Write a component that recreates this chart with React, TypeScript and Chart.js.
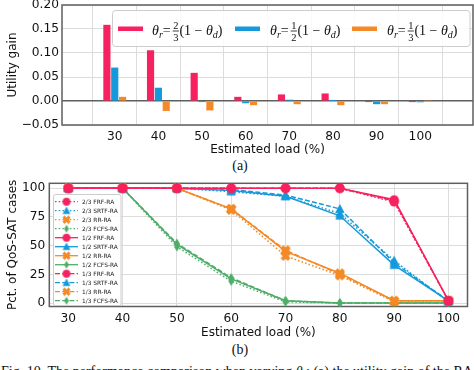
import React, { useEffect, useRef } from 'react';
import { Chart, registerables } from 'chart.js';

Chart.register(...registerables);

// ---------- data ----------
const loads = [30, 40, 50, 60, 70, 80, 90, 100];
const gainTicks = [-0.05, 0, 0.05, 0.1, 0.15, 0.2];
const pctTicks = [0, 25, 50, 75, 100];

// (a) utility gain per theta_r setting
const gain23 = [0.158, 0.105, 0.058, 0.008, 0.013, 0.015, -0.001, -0.001];
const gain12 = [0.069, 0.027, -0.001, -0.004, 0.002, 0.001, -0.006, -0.002];
const gain13 = [0.008, -0.02, -0.019, -0.008, -0.006, -0.008, -0.006, 0.0];
const gainFractions = [['2', '3'], ['1', '2'], ['1', '3']];

// (b) percentage of QoS-satisfied cases
const frf23 = [100, 100, 100, 100, 100, 100, 88, 2];
const frf12 = [100, 100, 100, 100, 100, 100, 90, 2];
const frf13 = [100, 100, 100, 100, 100, 100, 89, 2];
const srtf23 = [100, 100, 100, 97, 93, 78, 37, 1];
const srtf12 = [100, 100, 100, 98, 93, 76, 33, 2];
const srtf13 = [100, 100, 100, 99, 94, 82, 35, 2];
const rr23 = [100, 100, 100, 81, 41, 24, 1, 2];
const rr12 = [100, 100, 100, 82, 45, 26, 2, 2];
const rr13 = [100, 100, 100, 82, 46, 25, 2, 2];
const fcfs23 = [100, 100, 49, 19, 1, 0, 0, 0];
const fcfs12 = [100, 100, 51, 21, 2, 0, 0, 0];
const fcfs13 = [100, 100, 52, 22, 2, 0, 0, 0];
const ratioLabels = ['2/3', '1/2', '1/3'];
const algNames = ['FRF-RA', 'SRTF-RA', 'RR-RA', 'FCFS-RA'];

// ---------- styles ----------
const PINK = '#f6215e';
const BLUE = '#1599db';
const ORANGE = '#f38a27';
const GREEN = '#4fad6a';
const SANS = '"DejaVu Sans"';
const SERIF = '"Liberation Serif"';
const GRID = '#dcdcdc';
const FRAME = '#5f5f5f';
const TXT = '#111';

function makeMarker(shape: string, color: string, r: number) {
  const size = Math.ceil(r * 2 + 4);
  const c = document.createElement('canvas');
  c.width = size;
  c.height = size;
  const g = c.getContext('2d')!;
  g.translate(size / 2, size / 2);
  g.fillStyle = color;
  g.beginPath();
  if (shape === 'circle') {
    g.arc(0, 0, r, 0, Math.PI * 2);
  } else if (shape === 'triangle') {
    g.moveTo(0, -r * 1.1);
    g.lineTo(r, r * 0.8);
    g.lineTo(-r, r * 0.8);
    g.closePath();
  } else if (shape === 'x') {
    g.rotate(Math.PI / 4);
    const a = r * 0.4;
    const L = r * 1.05;
    const pts = [[-a, -L], [a, -L], [a, -a], [L, -a], [L, a], [a, a], [a, L], [-a, L], [-a, a], [-L, a], [-L, -a], [-a, -a]];
    pts.forEach((p, i) => (i ? g.lineTo(p[0], p[1]) : g.moveTo(p[0], p[1])));
    g.closePath();
  } else {
    g.moveTo(0, -r * 1.05);
    g.lineTo(r * 0.62, 0);
    g.lineTo(0, r * 1.05);
    g.lineTo(-r * 0.62, 0);
    g.closePath();
  }
  g.fill();
  return c;
}

const framePlugin = {
  id: 'frame',
  beforeDatasetsDraw(chart: any) {
    const { ctx, chartArea: a } = chart;
    ctx.save();
    ctx.strokeStyle = FRAME;
    ctx.lineWidth = 1.5;
    ctx.strokeRect(a.left, a.top, a.right - a.left, a.bottom - a.top);
    ctx.restore();
  },
};

function drawMathLabel(ctx: CanvasRenderingContext2D, x0: number, yMid: number, num: string, den: string) {
  let x = x0;
  const base = yMid + 4.3;
  const main = `14px ${SERIF}`;
  const it = `italic 14px ${SERIF}`;
  const sub = `italic 10px ${SERIF}`;
  const frac = `10.5px ${SERIF}`;
  ctx.fillStyle = TXT;
  ctx.textBaseline = 'alphabetic';
  ctx.textAlign = 'left';
  const put = (t: string, f: string, dy = 0) => {
    ctx.font = f;
    ctx.fillText(t, x, base + dy);
    x += ctx.measureText(t).width;
  };
  put('θ', it);
  put('r', sub, 2.5);
  put('=', main);
  x += 2;
  ctx.font = frac;
  const w = Math.max(ctx.measureText(num).width, ctx.measureText(den).width);
  ctx.textAlign = 'center';
  ctx.fillText(num, x + w / 2 + 0.5, yMid - 1.8);
  ctx.fillText(den, x + w / 2 + 0.5, yMid + 10.3);
  ctx.fillRect(x, yMid - 0.4, w + 1, 0.8);
  ctx.textAlign = 'left';
  x += w + 1.5;
  put('(1 − ', main);
  put('θ', it);
  put('d', sub, 2.5);
  put(')', main);
}

const gainLegendPlugin = {
  id: 'gainLegend',
  afterDraw(chart: any) {
    const ctx = chart.ctx as CanvasRenderingContext2D;
    ctx.save();
    ctx.fillStyle = 'rgba(255,255,255,0.85)';
    ctx.strokeStyle = '#cccccc';
    ctx.lineWidth = 1;
    ctx.beginPath();
    (ctx as any).roundRect(112.5, 10.5, 357.5, 36, 3);
    ctx.fill();
    ctx.stroke();
    const colors = [PINK, BLUE, ORANGE];
    const patchX = [118, 235, 352];
    const textX = [152, 270, 387];
    for (let i = 0; i < 3; i++) {
      ctx.fillStyle = colors[i];
      ctx.fillRect(patchX[i], 26.5, 25, 4.5);
      drawMathLabel(ctx, textX[i], 31, gainFractions[i][0], gainFractions[i][1]);
    }
    ctx.restore();
  },
};

function makePctLegendPlugin(entries: any[]) {
  return {
    id: 'pctLegend',
    afterDraw(chart: any) {
      const ctx = chart.ctx as CanvasRenderingContext2D;
      ctx.save();
      ctx.fillStyle = 'rgba(255,255,255,0.85)';
      ctx.strokeStyle = '#cccccc';
      ctx.lineWidth = 1;
      ctx.beginPath();
      (ctx as any).roundRect(53.5, 194.5 - 170, 67.5, 111, 2);
      ctx.fill();
      ctx.stroke();
      entries.forEach((e, i) => {
        const y = 201.7 - 170 + i * 9;
        ctx.strokeStyle = e.color;
        ctx.lineWidth = 1.3;
        ctx.setLineDash(e.dash);
        ctx.beginPath();
        ctx.moveTo(55, y);
        ctx.lineTo(78, y);
        ctx.stroke();
        ctx.setLineDash([]);
        const m = e.legendMarker as HTMLCanvasElement;
        ctx.drawImage(m, 66.5 - m.width / 2, y - m.height / 2);
        ctx.fillStyle = '#222';
        ctx.font = `5.9px ${SANS}`;
        ctx.textBaseline = 'middle';
        ctx.textAlign = 'left';
        ctx.fillText(e.label, 82, y + 0.3);
      });
      ctx.restore();
    },
  };
}

const tickFont = { family: SANS, size: 12.2 };
const titleFont = { family: SANS, size: 12 };

export default function App() {
  const ref1 = useRef<HTMLCanvasElement>(null);
  const ref2 = useRef<HTMLCanvasElement>(null);

  useEffect(() => {
    // ----- chart (a) -----
    const barSeries = [gain23, gain12, gain13];
    const barColors = [PINK, BLUE, ORANGE];
    const barShift = [-1.8, 0, 1.8];
    const c1 = new Chart(ref1.current!, {
      type: 'bar',
      data: {
        datasets: barSeries.map((s, k) => ({
          label: ratioLabels[k],
          data: loads.map((l, i) => ({ x: l + barShift[k], y: s[i] })),
          backgroundColor: barColors[k],
          borderWidth: 0,
          barThickness: 6.5,
          grouped: false,
        })) as any,
      },
      options: {
        responsive: false,
        devicePixelRatio: 1,
        animation: false,
        events: [],
        layout: { padding: { top: 5, right: 1, left: 0, bottom: 0 } },
        plugins: { legend: { display: false }, tooltip: { enabled: false } },
        scales: {
          x: {
            type: 'linear',
            min: 23.8,
            max: 106.2,
            afterBuildTicks: (s: any) => { s.ticks = loads.map((v) => ({ value: v })); },
            afterFit: (s: any) => { s.height = 32; s.paddingLeft = 0; s.paddingRight = 0; },
            grid: { color: GRID, lineWidth: 1, drawTicks: false },
            border: { display: false },
            ticks: { font: tickFont, color: TXT, padding: 4.5, maxRotation: 0, autoSkip: false, callback: (v: any) => String(v) },
            title: { display: true, text: 'Estimated load (%)', font: titleFont, color: TXT, padding: { top: 0, bottom: 0 } },
          },
          y: {
            type: 'linear',
            min: -0.05,
            max: 0.2,
            afterBuildTicks: (s: any) => { s.ticks = gainTicks.map((v) => ({ value: v })); },
            afterFit: (s: any) => { s.width = 62; s.paddingTop = 0; s.paddingBottom = 0; },
            grid: {
              color: (c: any) => (c.tick && Math.abs(c.tick.value) < 1e-9 ? FRAME : GRID),
              lineWidth: (c: any) => (c.tick && Math.abs(c.tick.value) < 1e-9 ? 1.5 : 1),
              drawTicks: false,
            },
            border: { display: false },
            ticks: {
              font: tickFont,
              color: TXT,
              padding: 3,
              callback: (v: any) => (Math.abs(v) < 1e-9 ? '0.00' : (v < 0 ? '−' : '') + Math.abs(v).toFixed(2)),
            },
            title: { display: true, text: 'Utility gain', font: titleFont, color: TXT, padding: { top: 6, bottom: 0 } },
          },
        },
      } as any,
      plugins: [framePlugin, gainLegendPlugin],
    });

    // ----- chart (b) -----
    const algs = [
      { color: PINK, shape: 'circle', r: 4.6, series: [frf23, frf12, frf13] },
      { color: BLUE, shape: 'triangle', r: 4.6, series: [srtf23, srtf12, srtf13] },
      { color: ORANGE, shape: 'x', r: 4.8, series: [rr23, rr12, rr13] },
      { color: GREEN, shape: 'diamond', r: 4.6, series: [fcfs23, fcfs12, fcfs13] },
    ];
    const dashes = [[1.5, 2.2], [], [5, 2.2]];
    const datasets: any[] = [];
    const legendEntries: any[] = [];
    for (let k = 0; k < 3; k++) {
      algs.forEach((a, j) => {
        const marker = makeMarker(a.shape, a.color, a.r);
        const label = `${ratioLabels[k]} ${algNames[j]}`;
        datasets.push({
          label,
          data: loads.map((l, i) => ({ x: l, y: a.series[k][i] })),
          borderColor: a.color,
          backgroundColor: a.color,
          borderWidth: 1.5,
          borderDash: dashes[k],
          pointStyle: marker,
          pointRadius: 5,
          fill: false,
          tension: 0,
          order: j,
        });
        legendEntries.push({ label, color: a.color, dash: dashes[k], legendMarker: makeMarker(a.shape, a.color, a.r * 0.85) });
      });
    }
    const c2 = new Chart(ref2.current!, {
      type: 'line',
      data: { datasets },
      options: {
        responsive: false,
        devicePixelRatio: 1,
        animation: false,
        events: [],
        layout: { padding: { top: 13.3, right: 1, left: 0, bottom: 0 } },
        plugins: { legend: { display: false }, tooltip: { enabled: false } },
        scales: {
          x: {
            type: 'linear',
            min: 26.5,
            max: 103.5,
            afterBuildTicks: (s: any) => { s.ticks = loads.map((v) => ({ value: v })); },
            afterFit: (s: any) => { s.height = 33.5; s.paddingLeft = 0; s.paddingRight = 0; },
            grid: { color: GRID, lineWidth: 1, drawTicks: false },
            border: { display: false },
            ticks: { font: tickFont, color: TXT, padding: 5.5, maxRotation: 0, autoSkip: false, callback: (v: any) => String(v) },
            title: { display: true, text: 'Estimated load (%)', font: titleFont, color: TXT, padding: { top: 0, bottom: 0 } },
          },
          y: {
            type: 'linear',
            min: -3,
            max: 104.3,
            afterBuildTicks: (s: any) => { s.ticks = pctTicks.map((v) => ({ value: v })); },
            afterFit: (s: any) => { s.width = 49.3; s.paddingTop = 0; s.paddingBottom = 0; },
            grid: { color: GRID, lineWidth: 1, drawTicks: false },
            border: { display: false },
            ticks: { font: tickFont, color: TXT, padding: 4, callback: (v: any) => String(v) },
            title: { display: true, text: 'Pct. of QoS-SAT cases', font: titleFont, color: TXT, padding: { top: 6, bottom: 0 } },
          },
        },
      } as any,
      plugins: [framePlugin, makePctLegendPlugin(legendEntries)],
    });

    return () => {
      c1.destroy();
      c2.destroy();
    };
  }, []);

  const cap: React.CSSProperties = {
    position: 'absolute',
    fontFamily: SERIF,
    fontSize: 14,
    lineHeight: '14px',
    color: '#111',
    whiteSpace: 'nowrap',
  };

  return (
    <div style={{ position: 'fixed', left: 0, top: 0, width: 474, height: 370, overflow: 'hidden', background: '#fff' }}>
      <canvas ref={ref1} width={474} height={157} style={{ position: 'absolute', left: 0, top: 0, width: 474, height: 157 }} />
      <div style={{ ...cap, left: 240, top: 159, transform: 'translateX(-50%)' }}>(a)</div>
      <canvas ref={ref2} width={474} height={170} style={{ position: 'absolute', left: 0, top: 170, width: 474, height: 170 }} />
      <div style={{ ...cap, left: 240, top: 343, transform: 'translateX(-50%)' }}>(b)</div>
      <div style={{ ...cap, left: 1, top: 364.5 }}>
        Fig. 10. The performance comparison when varying <i>θ</i><sub style={{ fontSize: 10 }}>r</sub>: (a) the utility gain of the RA
      </div>
    </div>
  );
}
